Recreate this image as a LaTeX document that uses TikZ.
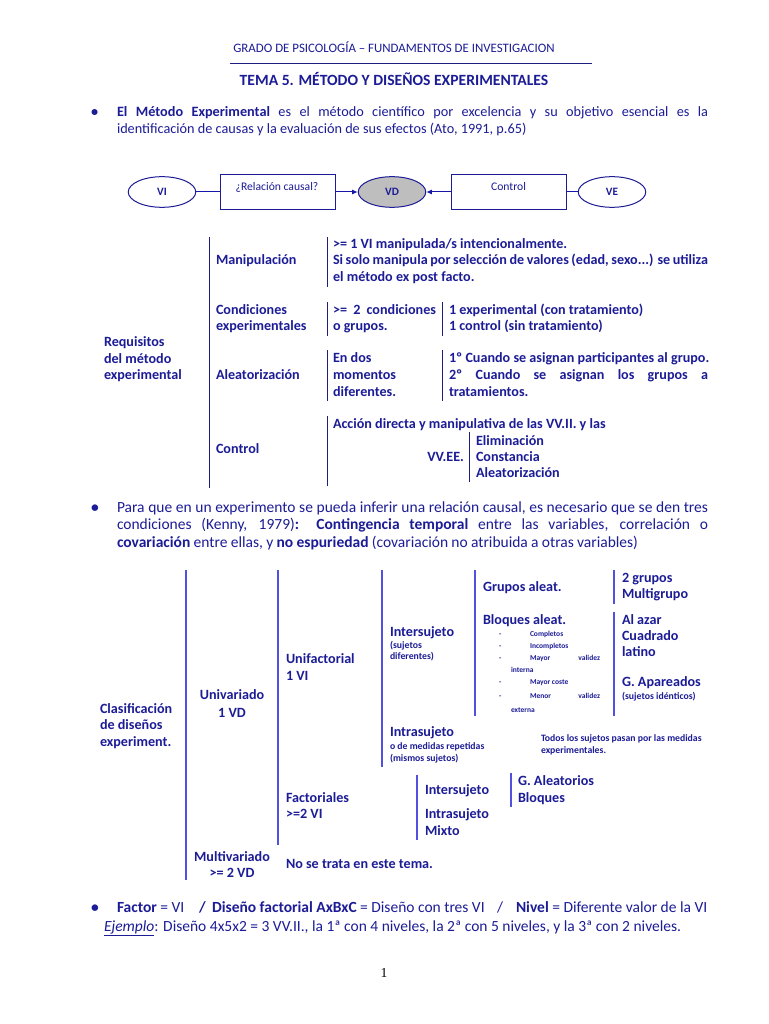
\documentclass[tikz,border=0pt]{standalone}
\usepackage{fontspec}
\setmainfont{Carlito}
\newfontfamily\pnum{Liberation Serif}
\usetikzlibrary{shapes.geometric,arrows.meta}
\definecolor{nav}{RGB}{28,28,150}
\definecolor{lnav}{RGB}{30,30,130}
\definecolor{tblue}{RGB}{80,80,225}
\definecolor{vdgray}{RGB}{190,190,190}
\newcounter{tn}
\newcommand\T[4][]{\stepcounter{tn}\node[txt,anchor=base west,#1] (t\arabic{tn}) at (#2,#3) {#4};}
\newcommand\J[5][]{\stepcounter{tn}\node[txt,anchor=base west,#1] (t\arabic{tn}) at (#2,#3) {\makebox[\dimexpr #4pt*4/5\relax][s]{#5}};}
\newcommand\fb{\fontsize{11.4}{13}\selectfont}
\newcommand\fbb{\fontsize{12.4}{14}\selectfont}
\newcommand\ftab{\fontsize{11.3}{13}\selectfont\bfseries}
\newcommand\ftree{\fontsize{11.3}{13}\selectfont\bfseries}
\newcommand\fsm{\fontsize{7.8}{9}\selectfont\bfseries}
\newcommand\fls{\fontsize{6}{7}\selectfont\bfseries}
\begin{document}
\begin{tikzpicture}[x=0.8pt,y=-0.8pt,
  txt/.style={inner sep=0pt,outer sep=0pt,text=nav,font=\fb},
  ell/.style={ellipse,draw=nav,line width=0.8pt,minimum width=54pt,minimum height=24.5pt,inner sep=0pt,font=\fontsize{9}{10}\selectfont\bfseries,text=nav},
  bx/.style={rectangle,draw=nav,line width=0.8pt,minimum width=92pt,minimum height=28pt,inner sep=0pt},
  fl/.style={draw=nav!80!blue,line width=0.8pt},
  ar/.style={fl,-{Latex[length=4.5pt,width=4pt]}},
  tl/.style={draw=lnav,line width=0.8pt},
  trl/.style={draw=tblue,line width=1pt}]
\useasboundingbox[fill=white] (0,0) rectangle (768,1024);

% header
\node[txt,font=\fontsize{10.3}{12}\selectfont,anchor=base] (hdr) at (394,53) {GRADO DE PSICOLOGÍA – FUNDAMENTOS DE INVESTIGACION};
\draw[tl] (230,64) -- (592,64);
\node[txt,font=\fontsize{12.5}{14}\selectfont\bfseries,anchor=base] (tema) at (394,86) {TEMA 5. MÉTODO Y DISEÑOS EXPERIMENTALES};

% bullet 1
\T{91}{117}{\textbf{•}}
\J{117}{117}{591}{\textbf{El Método Experimental} es el método científico por excelencia y su objetivo esencial es la}
\T{117}{134}{identificación de causas y la evaluación de sus efectos (Ato, 1991, p.65)}

% flow diagram
\node[ell] (vi) at (162,192) {VI};
\node[bx] (rc) at (278,192) {};
\node[txt,font=\fontsize{9.3}{11}\selectfont] (rct) at (277,187) {¿Relación causal?};
\node[ell,fill=vdgray] (vd) at (392,192) {VD};
\node[bx] (ct) at (508.5,192) {};
\node[txt,font=\fontsize{9.3}{11}\selectfont] (ctt) at (508.5,187) {Control};
\node[ell] (ve) at (612,192) {VE};
\draw[fl] (vi) -- (rc);
\draw[ar] (rc) -- (vd);
\draw[ar] (ct) -- (vd);
\draw[fl] (ct) -- (ve);

% requisitos table
\draw[tl] (209,237) -- (209,488);
\draw[tl] (327,237) -- (327,287);
\draw[tl] (327,302) -- (327,336);
\draw[tl] (442,302) -- (442,336);
\draw[tl] (327,350) -- (327,401);
\draw[tl] (442,350) -- (442,401);
\draw[tl] (327,416) -- (327,486);
\draw[tl] (469,432) -- (469,482);
\begingroup
\tikzset{txt/.append style={font=\ftab}}
\T{104}{346}{Requisitos}
\T{104}{363}{del método}
\T{104}{379}{experimental}
\T{216}{265}{Manipulación}
\T{333}{248}{>= 1 VI manipulada/s intencionalmente.}
\J{333}{265}{375}{Si solo manipula por selección de valores (edad, sexo...) se utiliza}
\T{333}{281}{el método ex post facto.}
\T{216}{314}{Condiciones}
\T{216}{330}{experimentales}
\J{333}{314}{103}{>= 2 condiciones}
\T{333}{330}{o grupos.}
\T{449}{314}{1 experimental (con tratamiento)}
\T{449}{330}{1 control (sin tratamiento)}
\T{216}{379}{Aleatorización}
\T{333}{362}{En dos}
\T{333}{379}{momentos}
\T{333}{396}{diferentes.}
\T{449}{362}{1º Cuando se asignan participantes al grupo.}
\J{449}{379}{259}{2º Cuando se asignan los grupos a}
\T{449}{396}{tratamientos.}
\T{333}{428}{Acción directa y manipulativa de las VV.II. y las}
\T{216}{453}{Control}
\T[anchor=base east]{464}{461}{VV.EE.}
\T{476}{445}{Eliminación}
\T{476}{461}{Constancia}
\T{476}{477}{Aleatorización}
\endgroup

% bullet 2
\begingroup
\tikzset{txt/.append style={font=\fbb}}
\T{91}{512}{\textbf{•}}
\J{117}{512}{591}{Para que en un experimento se pueda inferir una relación causal, es necesario que se den tres}
\J{117}{529.5}{591}{condiciones (Kenny, 1979)\textbf{: Contingencia temporal} entre las variables, correlación o}
\J{117}{547}{521}{\textbf{covariación} entre ellas, y \textbf{no espuriedad} (covariación no atribuida a otras variables)}
\endgroup

% classification tree
\draw[trl] (186,570) -- (186,880);
\draw[trl] (278,570) -- (278,845);
\draw[trl] (382,570) -- (382,767);
\draw[trl] (475,570) -- (475,716);
\draw[trl] (614,570) -- (614,604);
\draw[trl] (614,612) -- (614,716);
\draw[trl] (417,775) -- (417,840);
\draw[trl] (511,773) -- (511,807);
\begingroup
\tikzset{txt/.append style={font=\ftree}}
\T{100}{713}{Clasificación}
\T{100}{729}{de diseños}
\T{100}{746}{experiment.}
\T[anchor=base]{232}{699}{Univariado}
\T[anchor=base]{232}{717}{1 VD}
\T{286}{663}{Unifactorial}
\T{286}{680}{1 VI}
\T{390}{636}{Intersujeto}
\T[font=\fsm]{390}{648}{(sujetos}
\T[font=\fsm]{390}{659}{diferentes)}
\T{483}{591}{Grupos aleat.}
\T{622}{582}{2 grupos}
\T{622}{598}{Multigrupo}
\T{483}{624}{Bloques aleat.}
\T[font=\fls]{499}{636}{-}\T[font=\fls]{530}{636}{Completos}
\T[font=\fls]{499}{648}{-}\T[font=\fls]{530}{648}{Incompletos}
\T[font=\fls]{499}{660}{-}\J[font=\fls]{530}{660}{70}{Mayor validez}
\T[font=\fls]{511}{672}{interna}
\T[font=\fls]{499}{684}{-}\T[font=\fls]{530}{684}{Mayor coste}
\T[font=\fls]{499}{698}{-}\J[font=\fls]{530}{698}{70}{Menor validez}
\T[font=\fls]{511}{712}{externa}
\T{622}{624}{Al azar}
\T{622}{640}{Cuadrado}
\T{622}{656}{latino}
\T{622}{686}{G. Apareados}
\T[font=\fsm]{622}{699}{(sujetos idénticos)}
\T{390}{736}{Intrasujeto}
\T[font=\fsm]{390}{749}{o de medidas repetidas}
\T[font=\fsm]{390}{761}{(mismos sujetos)}
\T[font=\fsm]{541}{741}{Todos los sujetos pasan por las medidas}
\T[font=\fsm]{541}{753}{experimentales.}
\T{286}{802}{Factoriales}
\T{286}{818}{>=2 VI}
\T{425}{794}{Intersujeto}
\T{425}{818}{Intrasujeto}
\T{425}{835}{Mixto}
\T{518}{785}{G. Aleatorios}
\T{518}{802}{Bloques}
\T[anchor=base]{232}{861}{Multivariado}
\T[anchor=base]{232}{877}{>= 2 VD}
\T{286}{868}{No se trata en este tema.}
\endgroup

% bottom
\begingroup
\tikzset{txt/.append style={font=\fbb}}
\T{91}{912}{\textbf{•}}
\T{117}{912}{\textbf{Factor} = VI}
\T{199}{912}{\textbf{/}}
\T{212}{912}{\textbf{Diseño factorial AxBxC} = Diseño con tres VI}
\T{497}{912}{/}
\T{516}{912}{\textbf{Nivel} = Diferente valor de la VI}
\T{104}{931}{\textit{\underline{Ejemplo}}: Diseño 4x5x2 = 3 VV.II., la 1ª con 4 niveles, la 2ª con 5 niveles, y la 3ª con 2 niveles.}
\endgroup
\node[inner sep=0pt,font=\pnum\fontsize{11}{13}\selectfont,anchor=base] (pg) at (384,977) {1};
\end{tikzpicture}
\end{document}
